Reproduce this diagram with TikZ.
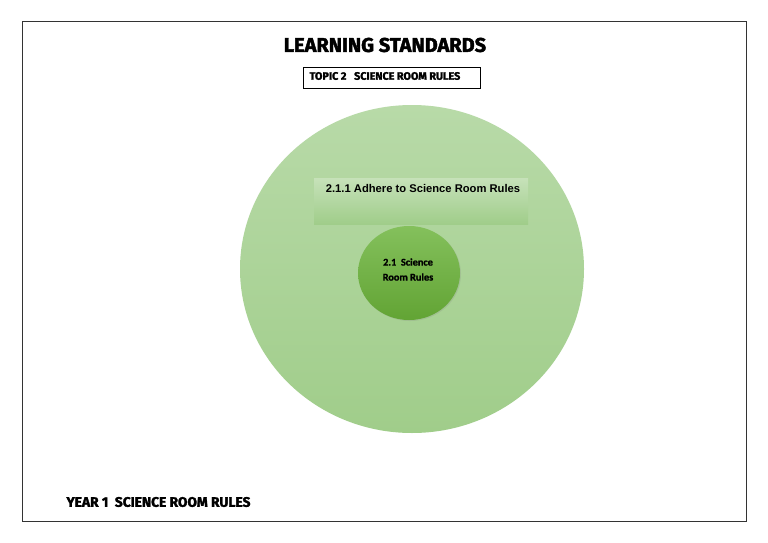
\documentclass[tikz,border=0pt]{standalone}
\usepackage{fontspec}
\setmainfont{Fira Sans}[BoldFeatures={FakeBold=2}]
\newfontfamily\arialfont{Liberation Sans}
\newfontfamily\calfont{Carlito}[BoldFeatures={FakeBold=1}]
\usetikzlibrary{shadows}

\definecolor{outertop}{RGB}{184,218,168}
\definecolor{outerbot}{RGB}{160,205,138}
\definecolor{innertop}{RGB}{132,192,92}
\definecolor{innerbot}{RGB}{98,164,52}

\tikzset{
  heading/.style={font=\fontsize{20}{22}\selectfont\bfseries},
  tag/.style={font=\fontsize{13.8}{15}\selectfont\bfseries}
}

\begin{document}
\begin{tikzpicture}[x=1pt,y=-1pt]

    \useasboundingbox (0,0) rectangle (768,543);
    \fill[white] (0,0) rectangle (768,543);

    % frame
    \draw[line width=1pt, black!80] (22,22) rectangle (746,521);

    \node[heading] (title) at (385,45) {LEARNING STANDARDS};
    \node[draw, line width=.6pt, minimum width=177pt, minimum height=21pt] (topic) at (391.5,77.5) {};
    \node[font=\fontsize{10.8}{12}\selectfont\bfseries, anchor=west] (topictxt) at (306,76)
          {TOPIC 2\ \ \ SCIENCE ROOM RULES};

    % outer circle
    \shade[top color=outertop, bottom color=outerbot] (412,269) ellipse (172 and 164);

    % band
    \shade[top color=outertop!80!white, bottom color=outerbot] (314,178) rectangle (528,224);
    \node[font=\arialfont\fontsize{11.2}{13}\selectfont\bfseries] (std) at (423,188)
          {2.1.1 Adhere to Science Room Rules};

    % inner circle
    \shade[top color=innertop, bottom color=innerbot,
           drop shadow={opacity=.2, shadow xshift=1pt, shadow yshift=-1pt}]
          (409,273) ellipse (51 and 47);
    \node[align=center, font=\calfont\fontsize{10.3}{15}\selectfont\bfseries] (topicin) at (408,269.5)
          {2.1\ \ Science\\Room Rules};

    \node[tag, anchor=west] (year) at (63,502) {YEAR 1\ \ SCIENCE ROOM RULES};

\end{tikzpicture}
\end{document}
